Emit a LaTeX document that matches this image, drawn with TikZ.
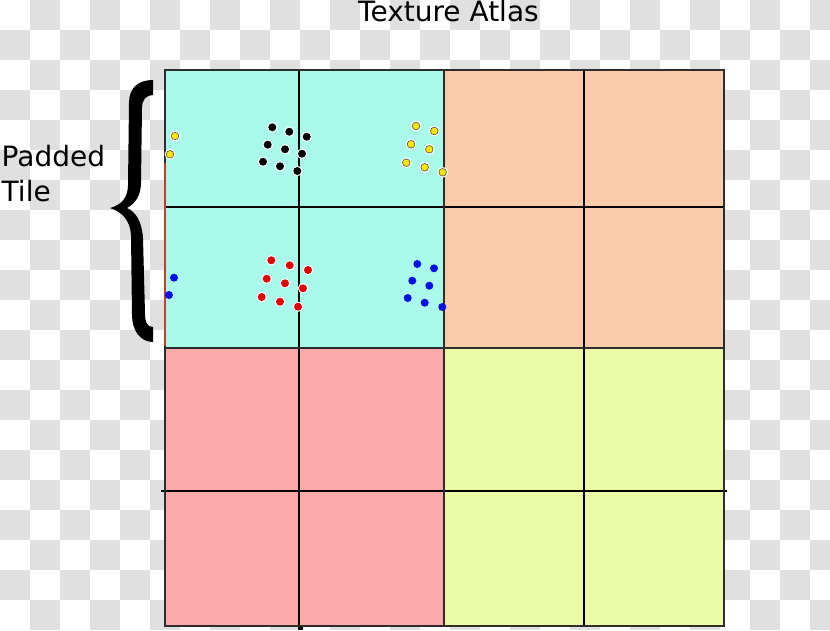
\documentclass[tikz,border=0pt]{standalone}
\usepackage{fontspec}
\setmainfont{DejaVu Sans}
\definecolor{checker}{RGB}{224,224,224}
\definecolor{cyanq}{RGB}{170,250,235}
\definecolor{peachq}{RGB}{252,203,169}
\definecolor{pinkq}{RGB}{252,169,170}
\definecolor{limeq}{RGB}{236,252,166}
\definecolor{borderq}{RGB}{45,45,45}
\definecolor{redline}{RGB}{200,60,40}
\definecolor{dotyellow}{RGB}{255,232,0}
\definecolor{dotred}{RGB}{225,0,0}
\definecolor{dotblue}{RGB}{0,16,225}
\begin{document}
\begin{tikzpicture}[x=1pt,y=-1pt,
  quad/.style={draw=borderq,line width=2.4pt},
  innerline/.style={draw=black,line width=1.8pt},
  label/.style={inner sep=0pt,font=\fontsize{28}{35}\selectfont},
]
\useasboundingbox (0,0) rectangle (830,630);
% transparency checkerboard
\fill[white] (0,0) rectangle (830,630);
\foreach \j in {0,...,20}{\foreach \i in {0,...,27}{%
  \ifodd\numexpr\i+\j\relax \fill[checker] (\i*30,\j*30) rectangle ++(30,30);\fi}}
% quadrants
\fill[cyanq]  (165,70)  rectangle (444,348);
\fill[peachq] (444,70)  rectangle (724,348);
\fill[pinkq]  (165,348) rectangle (444,626);
\fill[limeq]  (444,348) rectangle (724,626);
% inner tile lines
\draw[innerline] (299,70) -- (299,630);
\draw[innerline] (584,70) -- (584,626);
\draw[innerline] (165,207) -- (724,207);
\draw[innerline] (161,491) -- (727,491);
\fill[black] (297.5,626) rectangle (302.5,630);
% quadrant borders
\draw[quad] (165,70)  rectangle (444,348);
\draw[quad] (444,70)  rectangle (724,348);
\draw[quad] (165,348) rectangle (444,626);
\draw[quad] (444,348) rectangle (724,626);
\draw[redline,line width=1.4pt] (165,163) -- (165,346);
% dots
\foreach \x/\y in {272.3/127.3,289.3/131.7,306.7/136.7,267.7/144.7,285/149.3,302/153.7,263/161.7,280/166.3,297.3/171}{
  \fill[white] (\x,\y) circle (5.2pt);
  \fill[black] (\x,\y) circle (4pt);}
\foreach \x/\y in {175/136,170/154.3,416/126,434.3/131,411/144.3,429.3/149.3,406.3/162.7,424.7/167.3,442.7/172.3}{
  \fill[white] (\x,\y) circle (5.4pt);
  \filldraw[fill=dotyellow,draw=black!70,line width=0.6pt] (\x,\y) circle (3.8pt);}
\foreach \x/\y in {271.3/260.3,289.7/265.3,308/270,266.7/278.7,285/283.3,303/288.3,261.7/297,280/301.7,298/306.7}{
  \fill[white] (\x,\y) circle (5.2pt);
  \fill[dotred] (\x,\y) circle (4pt);}
\foreach \x/\y in {174/277.7,169/295,417.3/264,434/268.3,412.3/280.7,429.3/285.7,407.7/298,424.7/302.7,442.3/307}{
  \fill[dotblue] (\x,\y) circle (4pt);}
% brace
\fill[black]
  (153,80) .. controls (138,80) and (129,88) .. (129,103) -- (128,185)
  .. controls (128,198) and (121,205) .. (110,208)
  .. controls (122,212) and (130,220) .. (131,235) -- (132,315)
  .. controls (132,330) and (140,342) .. (153,342) -- (153,327)
  .. controls (147,327) and (145,322) .. (145,313) -- (143,238)
  .. controls (142,222) and (136,212) .. (127,208)
  .. controls (136,203) and (141,195) .. (141,182) -- (142,108)
  .. controls (142,100) and (146,95) .. (153,95) -- cycle;
% labels
\node[label,anchor=base west] (title) at (358,21) {Texture Atlas};
\node[label,anchor=base west] (padded) at (1.5,166.5) {Padded};
\node[label,anchor=base west] (tile) at (1.5,201.5) {Tile};
\end{tikzpicture}
\end{document}
